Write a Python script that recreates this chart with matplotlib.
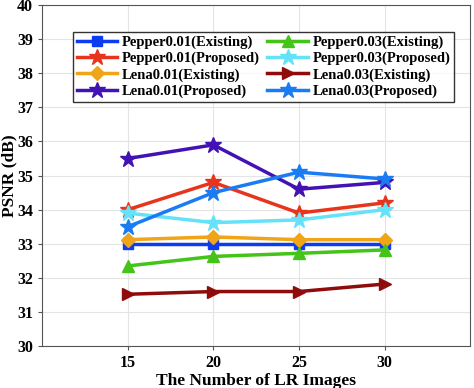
import matplotlib
matplotlib.use("Agg")
import matplotlib.pyplot as plt

plt.rcParams['font.family'] = ['Liberation Serif', 'DejaVu Serif']
plt.rcParams['font.weight'] = 'bold'

x = [15, 20, 25, 30]

pepper01_exist = [33.0, 33.0, 33.0, 33.0]
pepper03_exist = [32.35, 32.63, 32.72, 32.82]
pepper01_prop = [34.0, 34.8, 33.9, 34.2]
pepper03_prop = [33.9, 33.62, 33.7, 34.0]
lena01_exist = [33.12, 33.2, 33.12, 33.12]
lena03_exist = [31.52, 31.6, 31.6, 31.82]
lena01_prop = [35.5, 35.9, 34.6, 34.8]
lena03_prop = [33.5, 34.5, 35.1, 34.9]

fig = plt.figure(figsize=(4.74, 3.88), dpi=100)
ax = fig.add_axes([0.089, 0.108, 0.903, 0.879])

ax.plot(x, pepper01_exist, color='#0d3cf0', marker='s', ms=7, lw=2.5, label='Pepper0.01(Existing)')
ax.plot(x, pepper01_prop, color='#e8341c', marker='*', ms=12, lw=2.5, label='Pepper0.01(Proposed)')
ax.plot(x, lena01_exist, color='#f0a418', marker='D', ms=7, lw=2.5, label='Lena0.01(Existing)')
ax.plot(x, lena01_prop, color='#4212b4', marker='*', ms=12, lw=2.5, label='Lena0.01(Proposed)')
ax.plot(x, pepper03_exist, color='#44c418', marker='^', ms=9, lw=2.5, label='Pepper0.03(Existing)')
ax.plot(x, pepper03_prop, color='#66e2f8', marker='*', ms=12, lw=2.5, label='Pepper0.03(Proposed)')
ax.plot(x, lena03_exist, color='#900c0c', marker='>', ms=9, lw=2.5, label='Lena0.03(Existing)')
ax.plot(x, lena03_prop, color='#1a7cf2', marker='*', ms=12, lw=2.5, label='Lena0.03(Proposed)')

ax.set_xlim(10, 35)
ax.set_ylim(30, 40)
ax.set_xticks(x)
ax.set_yticks(range(30, 41))
ax.grid(color='#e4e4e4', lw=0.8)
ax.set_axisbelow(True)
for s in ax.spines.values():
    s.set_color('#555555')
ax.tick_params(labelsize=11.5, color='#555555', length=3)
for lab in ax.get_xticklabels() + ax.get_yticklabels():
    lab.set_fontweight('bold')

ax.set_xlabel('The Number of LR Images', fontsize=12.5, fontweight='bold', labelpad=1)
ax.set_ylabel('PSNR (dB)', fontsize=12.5, fontweight='bold', labelpad=0)

leg = ax.legend(ncol=2, loc='upper left', bbox_to_anchor=(0.072, 0.922), fontsize=10.5,
                frameon=True, fancybox=False, edgecolor='black', handlelength=2.8,
                columnspacing=0.5, labelspacing=0.2, borderpad=0.25, handletextpad=0.3,
                borderaxespad=0)
leg.get_frame().set_linewidth(1.0)

fig.savefig('out.png', dpi=100)
